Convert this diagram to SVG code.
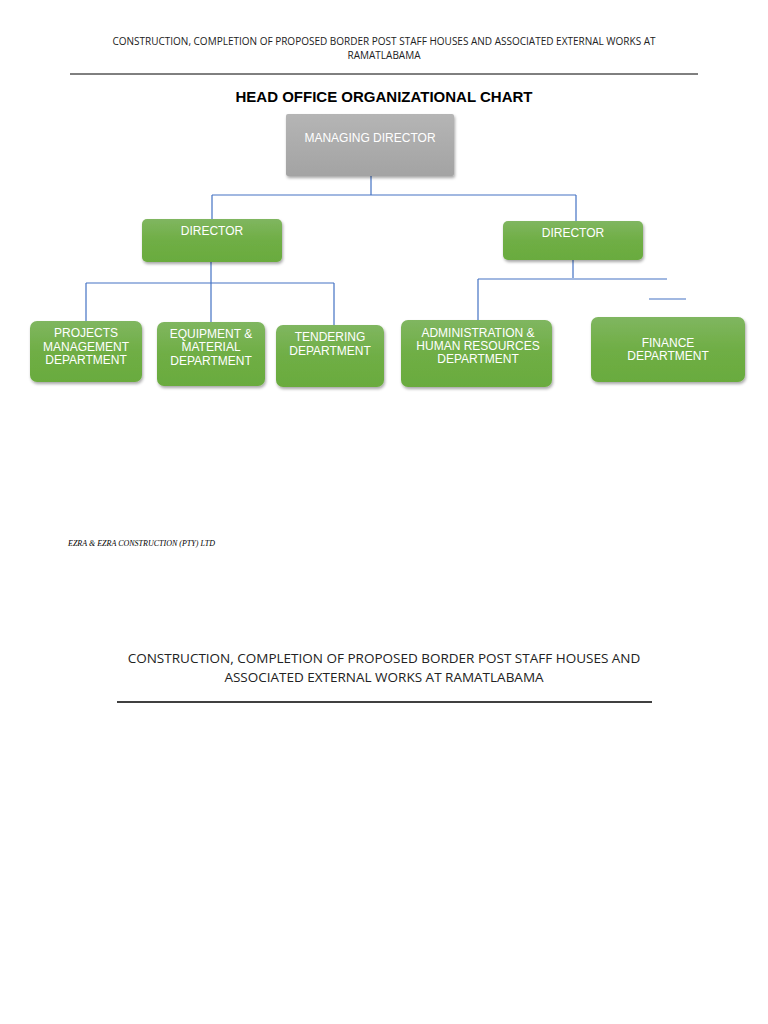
<svg xmlns="http://www.w3.org/2000/svg" width="768" height="1024" viewBox="0 0 768 1024">
<defs>
<linearGradient id="g" x1="0" y1="0" x2="0" y2="1"><stop offset="0" stop-color="#80b660"/><stop offset="0.5" stop-color="#6fae45"/><stop offset="1" stop-color="#6aab3e"/></linearGradient>
<linearGradient id="gr" x1="0" y1="0" x2="0" y2="1"><stop offset="0" stop-color="#b5b5b5"/><stop offset="1" stop-color="#a3a3a3"/></linearGradient>
<filter id="s" x="-10%" y="-10%" width="120%" height="130%"><feDropShadow dx="1" dy="2" stdDeviation="1.5" flood-opacity="0.35"/></filter>
</defs>
<style>
.n{fill:url(#g);filter:url(#s)}
.t{font-family:"Liberation Sans",Arial,sans-serif;font-size:12px;fill:#fff;text-anchor:middle}
.c{stroke:#4472c4;stroke-width:1.2;fill:none}
.h{font-family:"Open Sans","Liberation Sans",sans-serif;font-size:10px;fill:#222;text-anchor:middle}
</style>
<rect width="768" height="1024" fill="#fff"/>
<text class="h" x="384" y="45">CONSTRUCTION, COMPLETION OF PROPOSED BORDER POST STAFF HOUSES AND ASSOCIATED EXTERNAL WORKS AT</text>
<text class="h" x="384" y="59">RAMATLABAMA</text>
<line x1="70" y1="74" x2="698" y2="74" stroke="#000" stroke-width="1"/>
<text x="384" y="102" font-family="'Liberation Sans',Arial,sans-serif" font-size="15" font-weight="bold" text-anchor="middle" fill="#000">HEAD OFFICE ORGANIZATIONAL CHART</text>
<g id="connectors">
<path class="c" d="M371 176V195M212 195H576M212 195V219M576 195V221"/>
<path class="c" d="M211 262V283M86 283H334M86 283V321M211 283V322M334 283V325"/>
<path class="c" d="M573 260V278M478 279H667M478 279V320M649 299H686"/>
</g>
<g id="md"><rect x="286" y="114" width="168" height="62" rx="2" fill="url(#gr)" filter="url(#s)"/><text class="t" x="370" y="142" font-size="12">MANAGING DIRECTOR</text></g>
<g id="dir1"><rect class="n" x="142" y="219" width="140" height="43" rx="5"/><text class="t" x="212" y="235">DIRECTOR</text></g>
<g id="dir2"><rect class="n" x="503" y="221" width="140" height="39" rx="5"/><text class="t" x="573" y="237">DIRECTOR</text></g>
<g id="projects"><rect class="n" x="30" y="321" width="112" height="61" rx="7"/><text class="t" x="86" y="337">PROJECTS</text><text class="t" x="86" y="351">MANAGEMENT</text><text class="t" x="86" y="364">DEPARTMENT</text></g>
<g id="equipment"><rect class="n" x="157" y="322" width="108" height="64" rx="7"/><text class="t" x="211" y="338">EQUIPMENT &amp;</text><text class="t" x="211" y="351">MATERIAL</text><text class="t" x="211" y="365">DEPARTMENT</text></g>
<g id="tendering"><rect class="n" x="276" y="325" width="108" height="62" rx="7"/><text class="t" x="330" y="341">TENDERING</text><text class="t" x="330" y="355">DEPARTMENT</text></g>
<g id="admin"><rect class="n" x="401" y="320" width="151" height="67" rx="7"/><text class="t" x="478" y="337">ADMINISTRATION &amp;</text><text class="t" x="478" y="350">HUMAN RESOURCES</text><text class="t" x="478" y="363">DEPARTMENT</text></g>
<g id="finance"><rect class="n" x="591" y="317" width="154" height="65" rx="7"/><text class="t" x="668" y="347">FINANCE</text><text class="t" x="668" y="360">DEPARTMENT</text></g>
<text x="68" y="546" font-family="'Liberation Serif',serif" font-style="italic" font-size="8" fill="#000">EZRA &amp; EZRA CONSTRUCTION (PTY) LTD</text>
<text x="384" y="663" font-family="'Open Sans','Liberation Sans',sans-serif" font-size="13.5" text-anchor="middle" fill="#222">CONSTRUCTION, COMPLETION OF PROPOSED BORDER POST STAFF HOUSES AND</text>
<text x="384" y="682" font-family="'Open Sans','Liberation Sans',sans-serif" font-size="13.5" text-anchor="middle" fill="#222">ASSOCIATED EXTERNAL WORKS AT RAMATLABAMA</text>
<line x1="117" y1="702" x2="652" y2="702" stroke="#000" stroke-width="1.3"/>
</svg>
